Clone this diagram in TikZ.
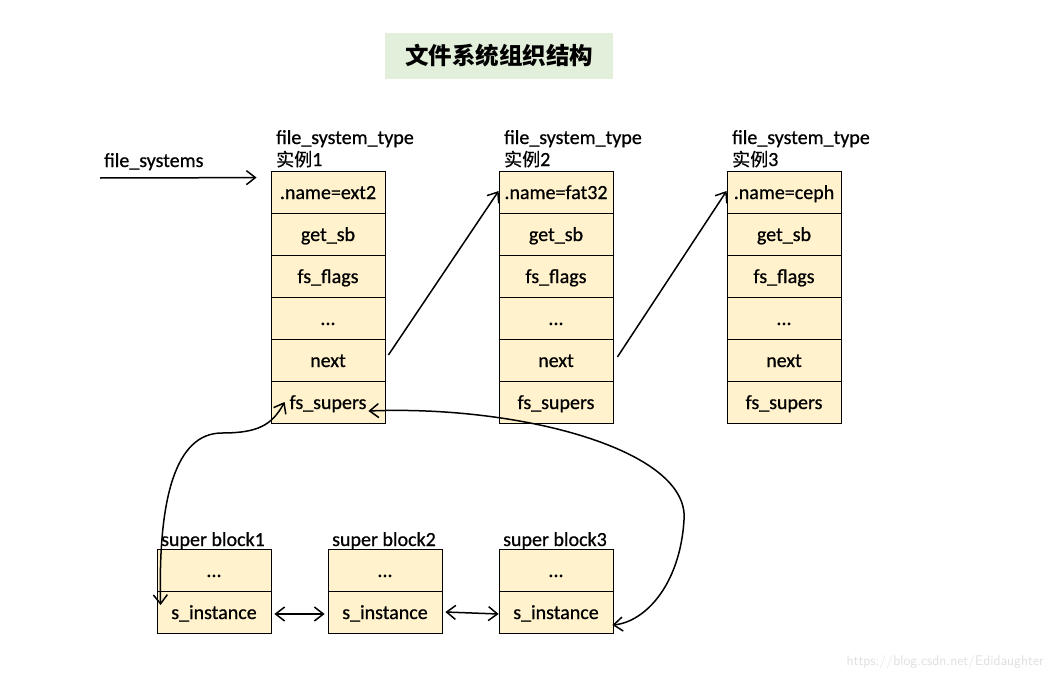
\documentclass[tikz,border=0pt]{standalone}
\usepackage{fontspec}
\setmainfont{Carlito}[FakeBold=0.7]
\newfontfamily\cjk{Noto Sans CJK SC}
\newfontfamily\cjkb{Noto Sans CJK SC}[FakeBold=0.5]
\usetikzlibrary{arrows.meta,calc}
\definecolor{cellfill}{HTML}{FFF2CC}
\definecolor{titlefill}{HTML}{E2EFDA}
\tikzset{
  cell/.style={draw=black, line width=0.8pt, fill=cellfill, minimum width=114pt, minimum height=42pt, inner sep=0pt, text height=17pt, text depth=3pt, font=\fontsize{20}{22}\selectfont},
  lbl/.style={anchor=base west, inner sep=0pt, font=\fontsize{20}{22}\selectfont},
  tip/.style={Straight Barb[length=9pt,width=14pt,line width=1.5pt]},
  conn/.style={line width=1.5pt, -{Straight Barb[length=9pt,width=14pt,line width=1.5pt]}},
  dconn/.style={line width=1.5pt, {Straight Barb[length=9pt,width=14pt,line width=1.5pt]}-{Straight Barb[length=9pt,width=14pt,line width=1.5pt]}},
}
\begin{document}
\begin{tikzpicture}[x=1pt,y=-1pt]
\useasboundingbox (0,0) rectangle (1054,677);
\fill[white] (0,0) rectangle (1054,677);
% title
\node[fill=titlefill, minimum width=228pt, minimum height=46pt, inner sep=0pt, font=\cjk\bfseries\fontsize{23.5}{26}\selectfont] (title) at (499,56) {文件系统组织结构};
% columns
\foreach \c/\x/\nm [count=\k] in {1/328/ext2, 2/556/fat32, 3/784/ceph}{
  \node[cell] (n\c1) at (\x,192) {.name=\nm};
  \node[cell] (n\c2) at (\x,234) {get\_sb};
  \node[cell] (n\c3) at (\x,276) {fs\_flags};
  \node[cell] (n\c4) at (\x,318) {...};
  \node[cell] (n\c5) at (\x,360) {next};
  \node[cell] (n\c6) at (\x,402) {fs\_supers};
  \node[lbl] (t\c) at (\x-52,144) {file\_system\_type};
  \node[lbl] (u\c) at (\x-52,166) {{\cjkb\fontsize{18}{20}\selectfont 实例}\c};
}
% super blocks
\foreach \s/\x in {1/214, 2/385, 3/556}{
  \node[cell] (s\s a) at (\x,570) {...};
  \node[cell] (s\s b) at (\x,612) {s\_instance};
  \node[lbl] (sl\s) at (\x-53,546) {super block\s};
}
% file_systems
\node[lbl] (fs) at (104,167) {file\_systems};
\coordinate (fsa) at (100,178);
\draw[conn] (fsa) -- ([xshift=-14pt,yshift=-7pt]n11.north west);
% next arrows
\draw[conn] ([xshift=3pt,yshift=5pt]n15.east) -- ([yshift=1pt]n21.west);
\draw[conn] ([xshift=4pt,yshift=3pt]n25.east) -- ([yshift=1pt]n31.west);
% s_instance arrows
\draw[dconn] ([xshift=3pt,yshift=-2pt]s1b.east) -- ([xshift=-3pt,yshift=-2pt]s2b.west);
\draw[dconn] ([xshift=3pt]s2b.east) -- ([xshift=0pt,yshift=-2pt]s3b.west);
% curves
\coordinate (c1a) at ($(s1b.west)+(4,-7)$);
\coordinate (c1b) at ($(n16.west)+(14,0)$);
\draw[dconn] (c1a) .. controls (158,500) and (175,433) .. (222,433)
  .. controls (258,433) and (272,425) .. (c1b);
\coordinate (c2a) at ($(n16.east)+(-17,9)$);
\coordinate (c2b) at ($(s3b.east)+(-1,13)$);
\draw[dconn] (c2a) .. controls (520,405) and (690,450) .. (684,520)
  .. controls (680,585) and (645,622) .. (c2b);
% watermark
\node[anchor=base east, inner sep=0pt, text=black!12, font=\sffamily\fontsize{14}{16}\selectfont] (wm) at (1044,665) {https://blog.csdn.net/Edidaughter};
\end{tikzpicture}
\end{document}
